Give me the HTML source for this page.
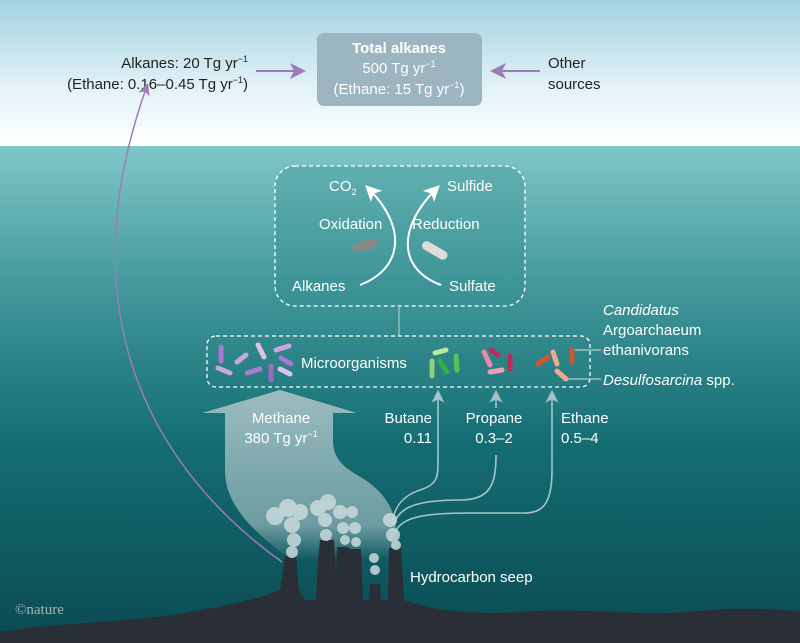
<!DOCTYPE html>
<html><head><meta charset="utf-8"><style>
html,body{margin:0;padding:0;background:#fff}
svg{display:block}
text{font-family:"Liberation Sans",sans-serif;font-size:15px;fill:#fff}
</style></head><body>
<svg width="800" height="643" viewBox="0 0 800 643" xmlns="http://www.w3.org/2000/svg">
<defs>
<linearGradient id="sky" x1="0" y1="0" x2="0" y2="1">
<stop offset="0" stop-color="#a2d2e0"/><stop offset="0.6" stop-color="#e2f2f7"/><stop offset="1" stop-color="#ffffff"/></linearGradient>
<linearGradient id="sea" x1="0" y1="0" x2="0" y2="1">
<stop offset="0" stop-color="#80c6c7"/><stop offset="0.3" stop-color="#3f9598"/><stop offset="0.6" stop-color="#136d72"/><stop offset="1" stop-color="#0b4a52"/></linearGradient>
<linearGradient id="plume" x1="0" y1="0" x2="0" y2="1">
<stop offset="0" stop-color="#a9c3c8" stop-opacity="0.9"/><stop offset="0.8" stop-color="#93b5ba" stop-opacity="0.7"/><stop offset="1" stop-color="#93b5ba" stop-opacity="0"/></linearGradient>
<marker id="pa" markerWidth="8" markerHeight="8" refX="6" refY="4" orient="auto"><path d="M0,0 L8,4 L0,8 L2,4z" fill="#9b7cb6"/></marker>
<marker id="wa" markerWidth="8" markerHeight="8" refX="6" refY="4" orient="auto"><path d="M0,0 L8,4 L0,8 L2,4z" fill="#fff"/></marker>
<marker id="ga" markerWidth="8" markerHeight="8" refX="6" refY="4" orient="auto"><path d="M0,0 L8,4 L0,8 L2,4z" fill="#a8c4c8"/></marker>
</defs>
<rect width="800" height="146" fill="url(#sky)"/>
<rect y="146" width="800" height="497" fill="url(#sea)"/>

<rect x="317" y="33" width="165" height="73" rx="7" fill="#9bb6c0"/>
<text x="399" y="53" text-anchor="middle" font-weight="bold">Total alkanes</text>
<text x="399" y="73" text-anchor="middle">500 Tg yr<tspan font-size="9" dy="-6">−1</tspan></text>
<text x="399" y="94" text-anchor="middle">(Ethane: 15 Tg yr<tspan font-size="9" dy="-6">−1</tspan><tspan dy="6">)</tspan></text>
<text x="248" y="68" text-anchor="end" style="fill:#222">Alkanes: 20 Tg yr<tspan font-size="9" dy="-6">−1</tspan></text>
<text x="248" y="89" text-anchor="end" style="fill:#222">(Ethane: 0.16–0.45 Tg yr<tspan font-size="9" dy="-6">−1</tspan><tspan dy="6">)</tspan></text>
<line x1="256" y1="71" x2="302" y2="71" stroke="#9b7cb6" stroke-width="2" marker-end="url(#pa)"/>
<line x1="540" y1="71" x2="494" y2="71" stroke="#9b7cb6" stroke-width="2" marker-end="url(#pa)"/>
<text x="548" y="68" style="fill:#222">Other</text>
<text x="548" y="89" style="fill:#222">sources</text>

<path d="M202,413 L280,390 L357,413 L333,413 L333,440 C333,460 345,468 362,478 C385,492 395,510 396,530 L396,560 L290,560 C260,535 225,510 225,470 L225,413 Z" fill="url(#plume)"/>
<path d="M282,562 C140,460 70,300 147,86" fill="none" stroke="#9b7cb6" stroke-width="1.5" marker-end="url(#pa)"/>

<rect x="275" y="166" width="250" height="140" rx="20" fill="#2f8a8c" fill-opacity="0.3" stroke="#fff" stroke-dasharray="4,3" stroke-width="1.3"/>
<path d="M360,285 C400,270 410,230 368,188" fill="none" stroke="#fff" stroke-width="2" marker-end="url(#wa)"/>
<path d="M441,285 C400,270 395,230 437,188" fill="none" stroke="#fff" stroke-width="2" marker-end="url(#wa)"/>
<text x="329" y="191">CO<tspan font-size="9" dy="4">2</tspan></text>
<text x="447" y="191">Sulfide</text>
<text x="319" y="229">Oxidation</text>
<text x="412" y="229">Reduction</text>
<text x="292" y="291">Alkanes</text>
<text x="449" y="291">Sulfate</text>
<rect x="352" y="241" width="26" height="9" rx="4.5" fill="#888" transform="rotate(-15 365 245)"/>
<rect x="421" y="246" width="28" height="9" rx="4.5" fill="#ddd" transform="rotate(30 435 250)"/>
<line x1="399" y1="306" x2="399" y2="336" stroke="#ccc" stroke-width="1"/>

<rect x="207" y="336" width="383" height="51" rx="9" fill="none" stroke="#fff" stroke-dasharray="4,3" stroke-width="1.3"/>
<g stroke-linecap="round" stroke-width="5">
<line x1="221" y1="347" x2="221" y2="361" stroke="#a57ad0"/>
<line x1="237" y1="362" x2="246" y2="355" stroke="#c8a6e0"/>
<line x1="258" y1="345" x2="264" y2="357" stroke="#d9c2ec"/>
<line x1="247" y1="373" x2="260" y2="369" stroke="#a67ad0"/>
<line x1="276" y1="350" x2="289" y2="346" stroke="#c8a6e0"/>
<line x1="281" y1="358" x2="291" y2="364" stroke="#a67ad0"/>
<line x1="218" y1="368" x2="230" y2="373" stroke="#c8a6e0"/>
<line x1="271" y1="366" x2="271" y2="380" stroke="#9a6ac4"/>
<line x1="280" y1="369" x2="290" y2="374" stroke="#d9c2ec"/>
<line x1="435" y1="353" x2="446" y2="350" stroke="#bde896"/>
<line x1="432" y1="361" x2="432" y2="376" stroke="#8fd07a"/>
<line x1="440" y1="361" x2="447" y2="372" stroke="#2fb04a"/>
<line x1="456" y1="356" x2="457" y2="370" stroke="#56c25c"/>
<line x1="484" y1="352" x2="490" y2="365" stroke="#e88aa8"/>
<line x1="491" y1="350" x2="498" y2="355" stroke="#c02a5a"/>
<line x1="510" y1="356" x2="510" y2="369" stroke="#c02a5a"/>
<line x1="490" y1="372" x2="502" y2="370" stroke="#e8a0b8"/>
<line x1="538" y1="364" x2="548" y2="357" stroke="#d9542c"/>
<line x1="553" y1="352" x2="557" y2="364" stroke="#f0a890"/>
<line x1="572" y1="350" x2="572" y2="362" stroke="#c55a30"/>
<line x1="557" y1="371" x2="566" y2="379" stroke="#f0a890"/>
</g>
<text x="301" y="368">Microorganisms</text>
<line x1="575" y1="350" x2="601" y2="350" stroke="#ddd"/>
<line x1="568" y1="379" x2="601" y2="379" stroke="#ddd"/>
<text x="603" y="315" font-style="italic">Candidatus</text>
<text x="603" y="335">Argoarchaeum</text>
<text x="603" y="355">ethanivorans</text>
<text x="603" y="385"><tspan font-style="italic">Desulfosarcina</tspan> spp.</text>

<text x="281" y="423" text-anchor="middle">Methane</text>
<text x="281" y="443" text-anchor="middle">380 Tg yr<tspan font-size="9" dy="-6">−1</tspan></text>
<text x="432" y="423" text-anchor="end">Butane</text>
<text x="432" y="443" text-anchor="end">0.11</text>
<text x="494" y="423" text-anchor="middle">Propane</text>
<text x="494" y="443" text-anchor="middle">0.3–2</text>
<text x="561" y="423">Ethane</text>
<text x="561" y="443">0.5–4</text>
<g fill="none" stroke="#a8c4c8" stroke-width="1.6">
<path d="M393,520 C395,505 405,495 420,490 C436,485 438,478 438,465 L438,393" marker-end="url(#ga)"/>
<path d="M394,525 C398,508 415,500 460,500 C490,500 496,485 496,455"/>
<path d="M496,408 L496,393" marker-end="url(#ga)"/>
<path d="M395,532 C402,518 420,513 470,513 L525,513 C545,513 552,500 552,470 L552,393" marker-end="url(#ga)"/>
</g>

<g fill="#2a2e36">
<path d="M0,632 C60,622 140,622 190,612 C230,605 262,598 280,590 L283,570 L285,556 L296,556 L299,590 L305,600 L316,600 L318,560 L320,540 L334,540 L336,575 L337,547 L348,547 L350,549 L361,549 L363,600 L369,600 L370,584 L380,584 L381,600 L388,600 L389,548 L401,548 L404,600 C430,610 470,615 520,612 C580,607 640,617 700,611 C740,607 770,609 800,611 L800,643 L0,643 Z"/>
</g>
<g fill="#c9dadc" opacity="0.85">
<circle cx="275" cy="516" r="9"/><circle cx="288" cy="508" r="9"/><circle cx="300" cy="512" r="8"/><circle cx="292" cy="525" r="8"/><circle cx="294" cy="540" r="7"/><circle cx="292" cy="552" r="6"/>
<circle cx="318" cy="508" r="8"/><circle cx="328" cy="502" r="8"/><circle cx="325" cy="520" r="7"/><circle cx="326" cy="535" r="6"/>
<circle cx="340" cy="512" r="7"/><circle cx="343" cy="528" r="6"/><circle cx="345" cy="540" r="5"/>
<circle cx="352" cy="512" r="6"/><circle cx="355" cy="528" r="6"/><circle cx="356" cy="542" r="5"/>
<circle cx="374" cy="558" r="5"/><circle cx="375" cy="570" r="5"/>
<circle cx="390" cy="520" r="7"/><circle cx="393" cy="535" r="7"/><circle cx="396" cy="545" r="5"/>
</g>
<text x="410" y="582">Hydrocarbon seep</text>
<text x="15" y="614" font-size="18" style="font-family:'Liberation Serif',serif;fill:#9fb6ba">©nature</text>
</svg>
</body></html>
